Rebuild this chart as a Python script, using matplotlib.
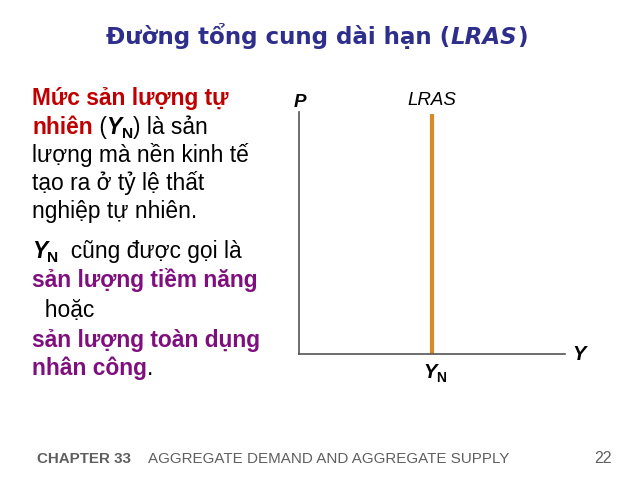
import matplotlib
matplotlib.use("Agg")
import matplotlib.pyplot as plt

# ---- data ----
title_runs = [("Đường tổng cung dài hạn (", "normal"), ("LRAS", "italic"), (")", "normal")]
y_n = 0.5            # natural output position on the Y axis
lras_x = [y_n, y_n]
lras_y = [0.0, 0.99]
footer_chapter = "CHAPTER 33"
footer_title = "AGGREGATE DEMAND AND AGGREGATE SUPPLY"
page_num = "22"

RED = "#C00000"
PURPLE = "#7F0F7E"
BLACK = "#000000"
NAVY = "#2E2F8C"
GRAY = "#5F5F5F"
ORANGE = "#D68A2A"

W, H = 638, 478
fig = plt.figure(figsize=(W / 100, H / 100), dpi=100)
fig.patch.set_facecolor("white")
renderer = fig.canvas.get_renderer()


def px(x, y):
    return x / W, 1 - y / H


def width_of(t):
    bb = t.get_window_extent(renderer=renderer)
    return bb.width


def draw_runs(x0, ybase, runs, family="Liberation Sans", size=15, measure_only=False):
    """runs: list of (text, color, weight, style, kind) kind in {'n','sub'}"""
    x = x0
    for text, color, weight, style, kind in runs:
        if kind == "sub":
            t = fig.text(*px(x, ybase + 4), text, fontsize=size * 0.68, color=color,
                         fontweight=weight, fontstyle=style, family=family, va="baseline", ha="left")
        else:
            t = fig.text(*px(x, ybase), text, fontsize=size, color=color,
                         fontweight=weight, fontstyle=style, family=family, va="baseline", ha="left")
        probe = fig.text(0, 0, "|" + text + "|", fontsize=t.get_fontsize(), fontweight=weight,
                         fontstyle=style, family=family)
        bar = fig.text(0, 0, "||", fontsize=t.get_fontsize(), fontweight=weight,
                       fontstyle=style, family=family)
        w = width_of(probe) - width_of(bar)
        probe.remove()
        bar.remove()
        if measure_only:
            t.remove()
        x += w
    return x - x0


# ---- title ----
truns = [(s, NAVY, "bold", st, "n") for s, st in title_runs]
TS = 16.6
tw = draw_runs(0, 44, truns, family="DejaVu Sans", size=TS, measure_only=True)
draw_runs(317 - tw / 2, 44, truns, family="DejaVu Sans", size=TS)

# ---- left text ----
B, N, I = "bold", "normal", "italic"
lines = [
    (105, [("Mức sản lượng tự", RED, B, N, "n")]),
    (134, [("nhiên", RED, B, N, "n"), (" (", BLACK, N, N, "n"), ("Y", BLACK, B, I, "n"),
           ("N", BLACK, B, N, "sub"), (") là sản", BLACK, N, N, "n")]),
    (162, [("lượng mà nền kinh tế", BLACK, N, N, "n")]),
    (190, [("tạo ra ở tỷ lệ thất", BLACK, N, N, "n")]),
    (218, [("nghiệp tự nhiên.", BLACK, N, N, "n")]),
    (258, [("Y", BLACK, B, I, "n"), ("N", BLACK, B, N, "sub"), ("  cũng được gọi là", BLACK, N, N, "n")]),
    (287, [("sản lượng tiềm năng", PURPLE, B, N, "n")]),
    (317, [("  hoặc", BLACK, N, N, "n")]),
    (347, [("sản lượng toàn dụng", PURPLE, B, N, "n")]),
    (375, [("nhân công", PURPLE, B, N, "n"), (".", BLACK, N, N, "n")]),
]
for yb, runs in lines:
    draw_runs(32, yb, runs, size=16.4)

# ---- diagram ----
x_left, x_right, y_top, y_bot = 299, 565, 112, 354
ax = fig.add_axes([x_left / W, 1 - y_bot / H, (x_right - x_left) / W, (y_bot - y_top) / H])
ax.set_xlim(0, 1)
ax.set_ylim(0, 1)
for s in ("top", "right"):
    ax.spines[s].set_visible(False)
for s in ("left", "bottom"):
    ax.spines[s].set_color("#555555")
    ax.spines[s].set_linewidth(1.2)
ax.set_xticks([])
ax.set_yticks([])
ax.patch.set_alpha(0)
ax.plot(lras_x, lras_y, color=ORANGE, lw=3, solid_capstyle="butt", clip_on=False)

fig.text(*px(294, 107), "P", fontsize=13.5, fontweight="bold", fontstyle="italic",
         family="Liberation Sans", va="baseline", ha="left")
ax.annotate("LRAS", xy=(y_n, lras_y[1]), xytext=(0, 4), textcoords="offset points",
            ha="center", va="bottom", fontsize=13.5, fontstyle="italic", family="Liberation Sans")
fig.text(*px(572, 360), "Y", fontsize=14.5, fontweight="bold", fontstyle="italic",
         family="Liberation Sans", va="baseline", ha="left")
draw_runs(423, 378, [("Y", BLACK, B, I, "n"), ("N", BLACK, B, N, "sub")], size=14.5)

# ---- footer ----
fig.text(*px(37, 463), footer_chapter, fontsize=10.9, fontweight="bold", color=GRAY,
         family="Liberation Sans", va="baseline", ha="left")
fig.text(*px(148, 463), footer_title, fontsize=10.9, color=GRAY,
         family="Liberation Sans", va="baseline", ha="left")
fig.text(*px(612, 463), page_num, fontsize=11.5, color=GRAY,
         family="Liberation Sans", va="baseline", ha="right")

fig.savefig("out.png", dpi=100, facecolor="white")
